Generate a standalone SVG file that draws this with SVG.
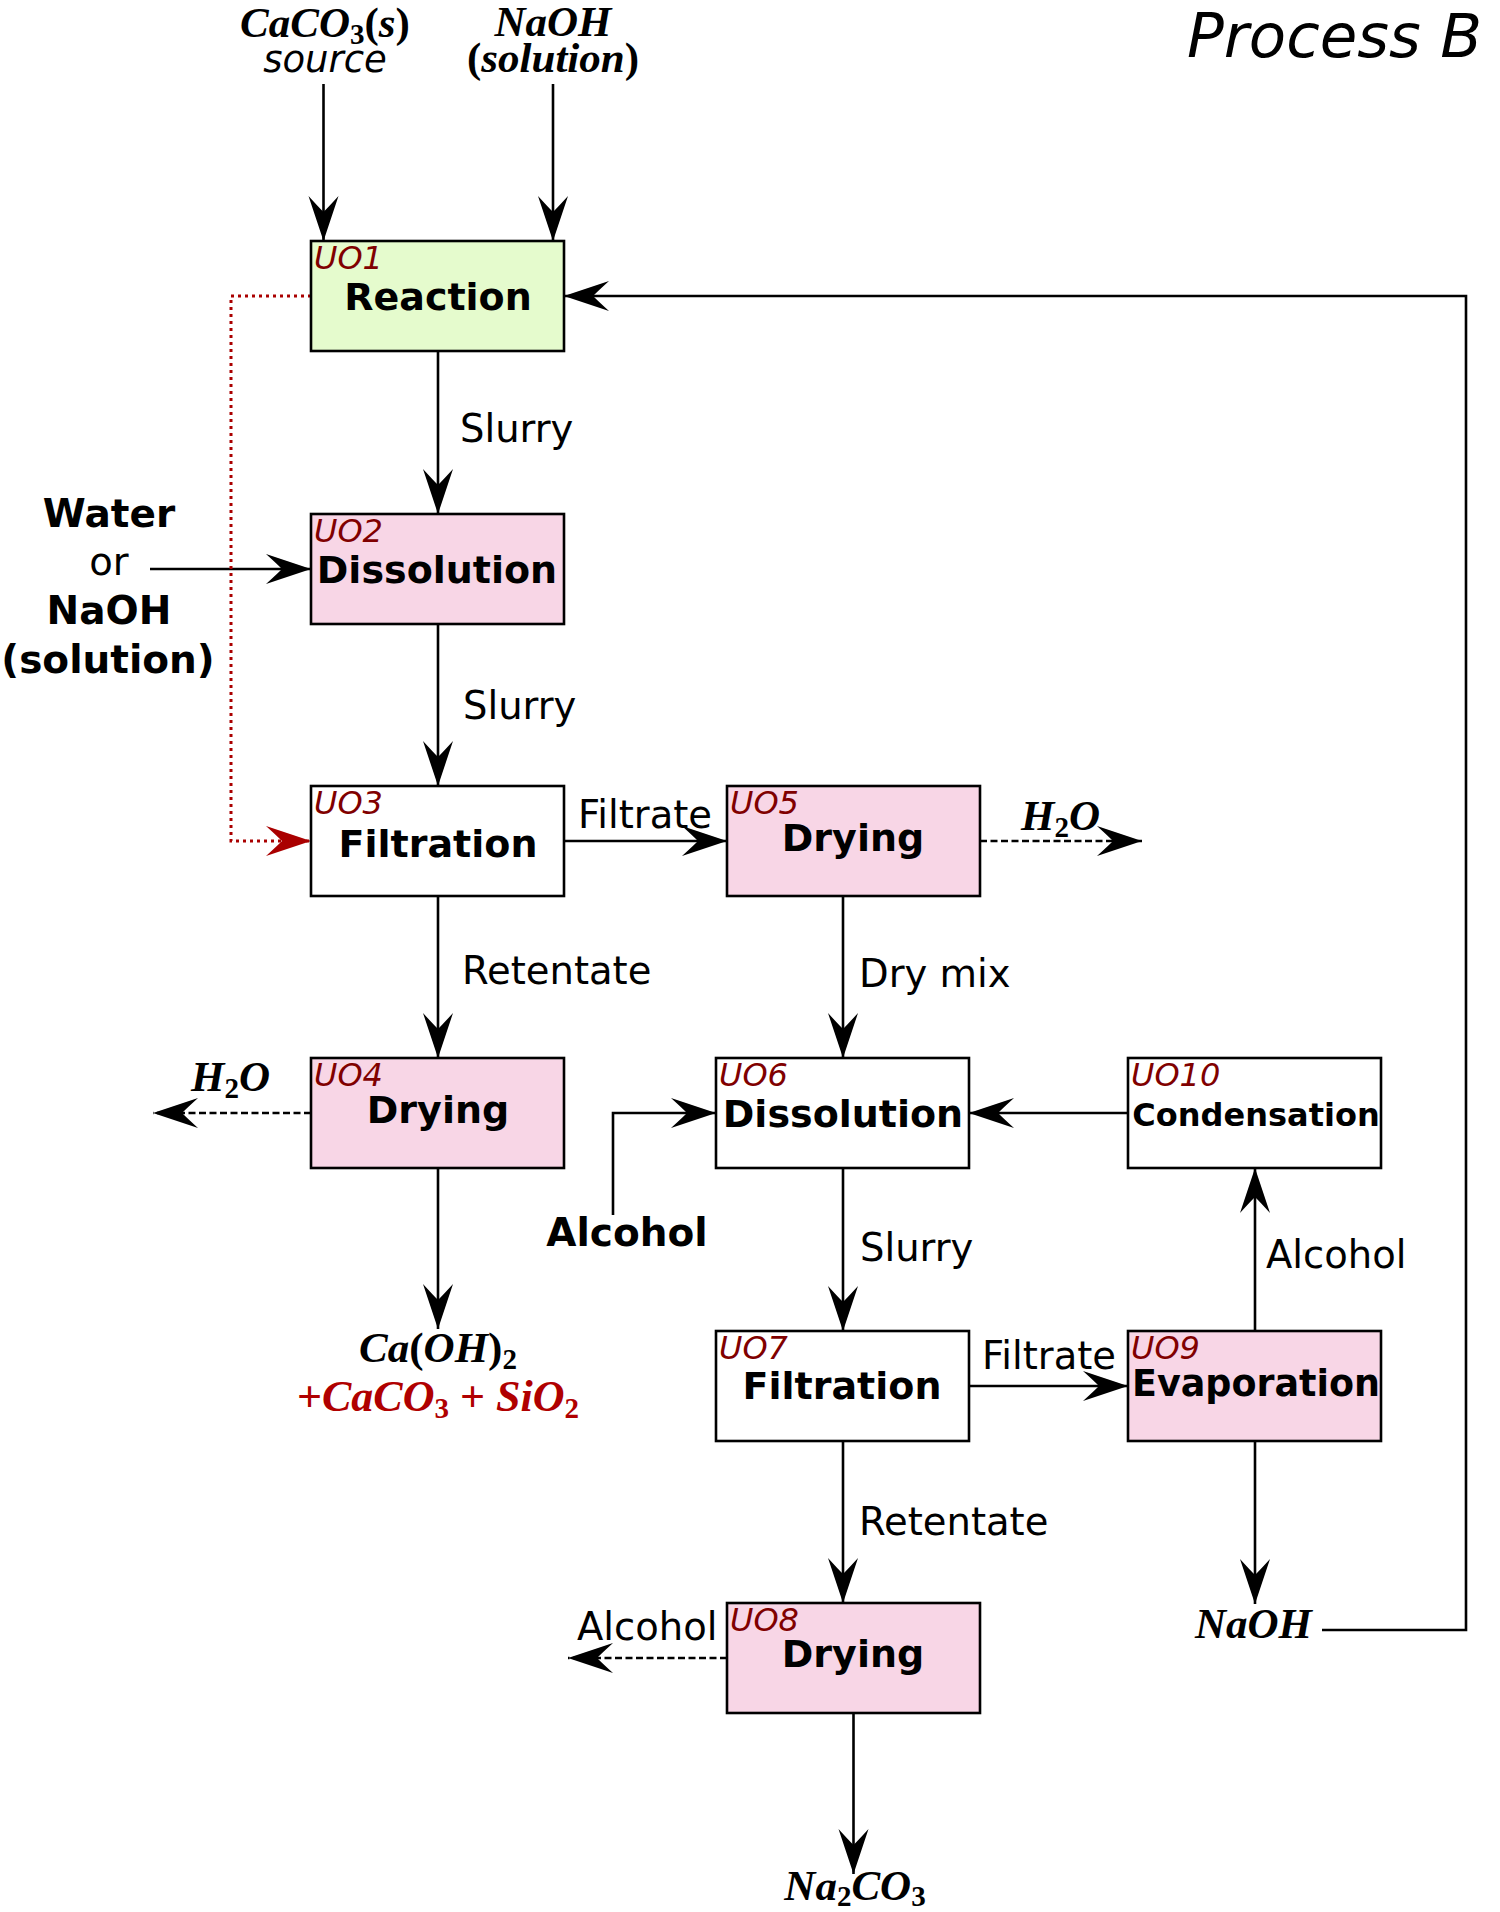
<svg xmlns="http://www.w3.org/2000/svg" width="1500" height="1912" viewBox="0 0 1500 1912">
<style>
.box{stroke:#000;stroke-width:2.6}
.g{fill:#e5fbcd}
.p{fill:#f8d6e6}
.w{fill:#fff}
.uo{font-family:"DejaVu Sans",sans-serif;font-style:italic;font-size:32px;fill:#800000}
.bl{font-family:"DejaVu Sans",sans-serif;font-weight:bold;font-size:38px;fill:#000;text-anchor:middle}
.lb{font-family:"DejaVu Sans",sans-serif;font-size:38.5px;fill:#000}
.in{font-family:"DejaVu Sans",sans-serif;font-weight:bold;font-size:39px;fill:#000;text-anchor:middle}
.m{font-family:"Liberation Serif",serif;font-style:italic;font-weight:bold;font-size:43px;fill:#000}
.up{font-style:normal}
.sb{font-style:normal;font-size:29px}
.c{fill:none;stroke:#000;stroke-width:2.6}
.d{stroke-dasharray:7 3.5}
.r{fill:none;stroke:#aa0000;stroke-width:3;stroke-dasharray:3 4}
</style>
<defs>
<marker id="ah" markerUnits="userSpaceOnUse" markerWidth="60" markerHeight="40" refX="0" refY="0" viewBox="-50 -20 60 40" orient="auto" overflow="visible">
<path d="M0,0 L-45,-15 Q-34,-5 -29,0 Q-34,5 -45,15 Z" fill="#000"/>
</marker>
<marker id="ahr" markerUnits="userSpaceOnUse" markerWidth="60" markerHeight="40" refX="0" refY="0" viewBox="-50 -20 60 40" orient="auto" overflow="visible">
<path d="M0,0 L-45,-15 Q-34,-5 -29,0 Q-34,5 -45,15 Z" fill="#aa0000"/>
</marker>
</defs>
<rect width="1500" height="1912" fill="#fff"/>

<text x="1187" y="57" font-family="DejaVu Sans, sans-serif" font-style="italic" font-size="61">Process B</text>

<g id="connectors">
<path class="c" d="M323.5,84 V241" marker-end="url(#ah)"/>
<path class="c" d="M553,84 V241" marker-end="url(#ah)"/>
<path class="c" d="M1322,1630 H1466 V296 H564" marker-end="url(#ah)"/>
<path class="c" d="M438,351 V514" marker-end="url(#ah)"/>
<path class="c" d="M150,569 H311" marker-end="url(#ah)"/>
<path class="c" d="M438,624 V786" marker-end="url(#ah)"/>
<path class="r" d="M311,296 H231 V841 H311" marker-end="url(#ahr)"/>
<path class="c" d="M564,841 H727" marker-end="url(#ah)"/>
<path class="c d" d="M980,841 H1142" marker-end="url(#ah)"/>
<path class="c" d="M438,896 V1058" marker-end="url(#ah)"/>
<path class="c d" d="M311,1113 H153" marker-end="url(#ah)"/>
<path class="c" d="M438,1168 V1329" marker-end="url(#ah)"/>
<path class="c" d="M843,896 V1058" marker-end="url(#ah)"/>
<path class="c" d="M613,1215 V1113 H716" marker-end="url(#ah)"/>
<path class="c" d="M1128,1113 H969" marker-end="url(#ah)"/>
<path class="c" d="M843,1168 V1331" marker-end="url(#ah)"/>
<path class="c" d="M969,1386 H1128" marker-end="url(#ah)"/>
<path class="c" d="M1255,1331 V1168" marker-end="url(#ah)"/>
<path class="c" d="M1255,1441 V1604" marker-end="url(#ah)"/>
<path class="c" d="M843,1441 V1603" marker-end="url(#ah)"/>
<path class="c d" d="M727,1658 H568" marker-end="url(#ah)"/>
<path class="c" d="M853.5,1713 V1874" marker-end="url(#ah)"/>
</g>

<g id="edge-labels">
<text class="lb" x="460" y="442">Slurry</text>
<text class="lb" x="463" y="719">Slurry</text>
<text class="lb" x="578" y="828">Filtrate</text>
<text class="lb" x="462" y="984">Retentate</text>
<text class="lb" x="859" y="987" xml:space="preserve">Dry mix</text>
<text class="lb" x="860" y="1261">Slurry</text>
<text class="lb" x="982" y="1369">Filtrate</text>
<text class="lb" x="1266" y="1268">Alcohol</text>
<text class="lb" x="859" y="1535">Retentate</text>
<text class="lb" x="577" y="1640">Alcohol</text>
</g>

<g id="inputs">
<text class="m" x="325" y="37" text-anchor="middle">CaCO<tspan class="sb" dy="7">3</tspan><tspan class="up" dy="-7">(</tspan>s<tspan class="up">)</tspan></text>
<text x="325" y="72" text-anchor="middle" font-family="DejaVu Sans, sans-serif" font-style="italic" font-size="37">source</text>
<text class="m" x="553" y="36" text-anchor="middle">NaOH</text>
<text class="m" x="553" y="72" text-anchor="middle"><tspan class="up">(</tspan>solution<tspan class="up">)</tspan></text>
<text class="in" x="109" y="527">Water</text>
<text class="lb" x="109" y="575" text-anchor="middle">or</text>
<text class="in" x="109" y="624">NaOH</text>
<text class="in" x="108" y="673">(solution)</text>
<text class="in" x="627" y="1246">Alcohol</text>
</g>

<g id="outputs">
<text class="m" x="1021" y="830">H<tspan class="sb" dy="7">2</tspan><tspan dy="-7">O</tspan></text>
<text class="m" x="191" y="1091">H<tspan class="sb" dy="7">2</tspan><tspan dy="-7">O</tspan></text>
<text class="m" x="438" y="1362" text-anchor="middle">Ca<tspan class="up">(</tspan>OH<tspan class="up">)</tspan><tspan class="sb" dy="7">2</tspan></text>
<text class="m" x="438" y="1411" text-anchor="middle" style="fill:#b00000;font-size:44px"><tspan class="up">+</tspan>CaCO<tspan class="sb" dy="7">3</tspan><tspan class="up" dy="-7"> + </tspan>SiO<tspan class="sb" dy="7">2</tspan></text>
<text class="m" x="1195" y="1638">NaOH</text>
<text class="m" x="855" y="1900" text-anchor="middle">Na<tspan class="sb" dy="6">2</tspan><tspan dy="-6">CO</tspan><tspan class="sb" dy="6">3</tspan></text>
</g>

<g id="UO1"><rect class="box g" x="311" y="241" width="253" height="110"/><text class="uo" x="314" y="269">UO1</text><text class="bl" x="438" y="310">Reaction</text></g>
<g id="UO2"><rect class="box p" x="311" y="514" width="253" height="110"/><text class="uo" x="314" y="542">UO2</text><text class="bl" x="437" y="583">Dissolution</text></g>
<g id="UO3"><rect class="box w" x="311" y="786" width="253" height="110"/><text class="uo" x="314" y="814">UO3</text><text class="bl" x="438" y="857">Filtration</text></g>
<g id="UO4"><rect class="box p" x="311" y="1058" width="253" height="110"/><text class="uo" x="314" y="1086">UO4</text><text class="bl" x="438" y="1123">Drying</text></g>
<g id="UO5"><rect class="box p" x="727" y="786" width="253" height="110"/><text class="uo" x="730" y="814">UO5</text><text class="bl" x="853" y="851">Drying</text></g>
<g id="UO6"><rect class="box w" x="716" y="1058" width="253" height="110"/><text class="uo" x="719" y="1086">UO6</text><text class="bl" x="843" y="1127">Dissolution</text></g>
<g id="UO7"><rect class="box w" x="716" y="1331" width="253" height="110"/><text class="uo" x="719" y="1359">UO7</text><text class="bl" x="842" y="1399">Filtration</text></g>
<g id="UO8"><rect class="box p" x="727" y="1603" width="253" height="110"/><text class="uo" x="730" y="1631">UO8</text><text class="bl" x="853" y="1667">Drying</text></g>
<g id="UO9"><rect class="box p" x="1128" y="1331" width="253" height="110"/><text class="uo" x="1131" y="1359">UO9</text><text class="bl" x="1256" y="1396" textLength="248" lengthAdjust="spacingAndGlyphs">Evaporation</text></g>
<g id="UO10"><rect class="box w" x="1128" y="1058" width="253" height="110"/><text class="uo" x="1131" y="1086">UO10</text><text class="bl" x="1256" y="1126" style="font-size:32px">Condensation</text></g>
</svg>
